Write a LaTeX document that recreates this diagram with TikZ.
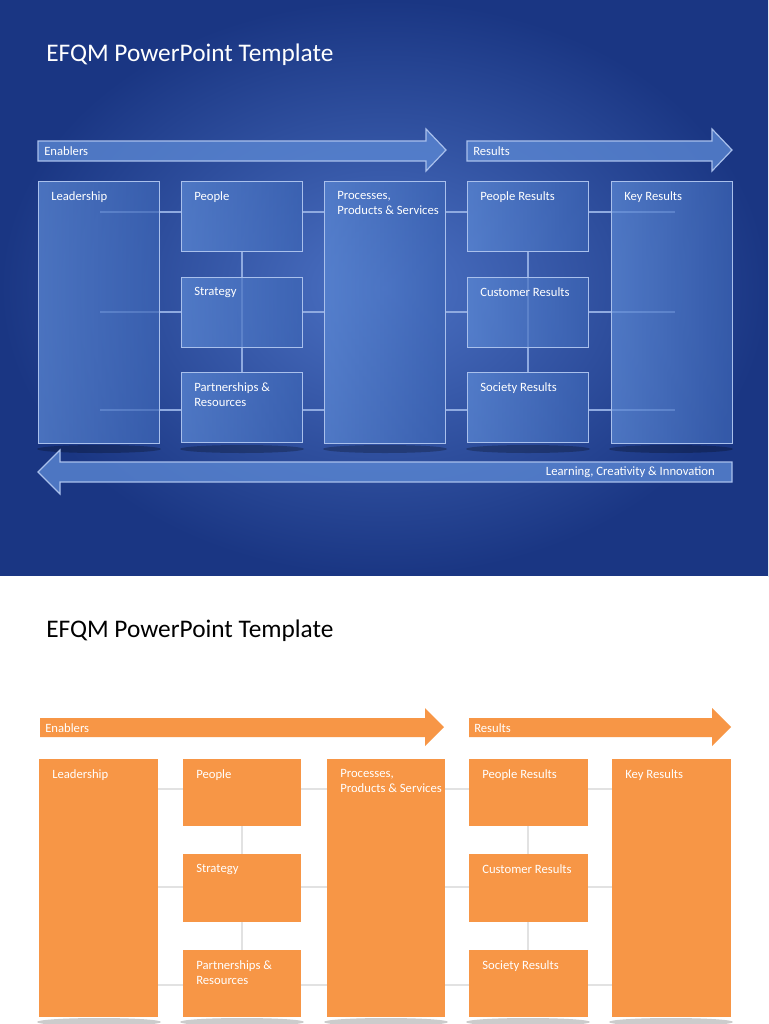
\documentclass[tikz,border=0pt]{standalone}
\usepackage{fontspec}
\setmainfont{Carlito}
\usetikzlibrary{shadings}
\definecolor{bgin}{HTML}{4C72C4}
\definecolor{bgout}{HTML}{1A3683}
\definecolor{bboxl}{HTML}{5A86D2}
\definecolor{bboxr}{HTML}{3C64B4}
\definecolor{bedge}{HTML}{A9C0EC}
\definecolor{bline}{HTML}{8FAAE0}
\definecolor{orng}{HTML}{F79646}
\definecolor{gline}{HTML}{E2E2E2}
\tikzset{
  bbox/.style={draw=bedge, line width=0.9pt, left color=bboxl, right color=bboxr, fill opacity=0.75, anchor=north west, inner sep=0pt},
  obox/.style={fill=orng, draw=none, anchor=north west, inner sep=0pt},
  blab/.style={anchor=north west, text=white, font=\fontsize{9.5pt}{11.3pt}\selectfont, align=left, inner sep=0pt},
  bconn/.style={draw=bline, line width=1.2pt},
  oconn/.style={draw=gline, line width=1.5pt},
  barrow/.style={draw=bedge, line width=0.9pt, fill=bboxl, fill opacity=0.8},
  oarrow/.style={fill=orng, draw=none},
  title/.style={anchor=west, font=\fontsize{19pt}{23pt}\selectfont, inner sep=0pt},
}
\newcommand\efb[7]{% style name x1 y1 x2 y2 text
  \node[#1, minimum width={(#5-#3)*0.75pt}, minimum height={(#6-#4)*0.75pt}] (#2) at (#3,#4) {};
  \node[blab] (#2t) at (#3+13,#4+10) {#7};}
\begin{document}
\begin{tikzpicture}[x=0.75pt,y=-0.75pt]
\useasboundingbox (0,0) rectangle (768,1024);
% ---------- top slide ----------
\shade[inner color=bgin, outer color=bgout] (0,0) rectangle (768,576);
\node[title, text=white] (t1) at (46,55) {EFQM PowerPoint Template};
\foreach \cx in {99,242,385,528,671}
  \fill[black, opacity=0.25] (\cx,449) ellipse (62 and 4);
\filldraw[barrow] (38,141) -- (426,141) -- (426,129) -- (446,150) -- (426,171) -- (426,161) -- (38,161) -- cycle;
\node[blab, anchor=west] (en1) at (44,151) {Enablers};
\filldraw[barrow] (467,141) -- (712,141) -- (712,129) -- (732,150) -- (712,171) -- (712,161) -- (467,161) -- cycle;
\node[blab, anchor=west] (re1) at (473,151) {Results};
\filldraw[barrow] (732,462) -- (60,462) -- (60,450) -- (38,472) -- (60,494) -- (60,482) -- (732,482) -- cycle;
\node[blab, anchor=east] (lc1) at (715,472) {Learning, Creativity \& Innovation};
\foreach \y in {212,312,410}{
  \draw[bconn] (100,\y) -- (181,\y);
  \draw[bconn] (302,\y) -- (324,\y);
  \draw[bconn] (445,\y) -- (467,\y);
  \draw[bconn] (588,\y) -- (675,\y);}
\draw[bconn] (242,251) -- (242,372);
\draw[bconn] (528,251) -- (528,372);
\efb{bbox}{lead}{38}{181}{159}{443}{Leadership}
\efb{bbox}{peo}{181}{181}{302}{251}{People}
\efb{bbox}{str}{181}{277}{302}{347}{Strategy}
\efb{bbox}{par}{181}{372}{302}{442}{Partnerships \&\\Resources}
\efb{bbox}{pro}{324}{181}{445}{443}{Processes,\\Products \& Services}
\efb{bbox}{pr}{467}{181}{588}{251}{People Results}
\efb{bbox}{cr}{467}{277}{588}{347}{Customer Results}
\efb{bbox}{sr}{467}{372}{588}{442}{Society Results}
\efb{bbox}{kr}{611}{181}{732}{443}{Key Results}
% ---------- bottom slide ----------
\begin{scope}
\clip (0,576) rectangle (768,1024);
\fill[white] (0,576) rectangle (768,1024);
\node[title, text=black] (t2) at (46,631) {EFQM PowerPoint Template};
\foreach \cx in {99,242,386,528,671}
  \fill[gray!40] (\cx,1022) ellipse (62 and 4);
\fill[oarrow] (40,718) -- (425,718) -- (425,708) -- (444,727) -- (425,746) -- (425,737) -- (40,737) -- cycle;
\node[blab, anchor=west] (en2) at (45,728) {Enablers};
\fill[oarrow] (469,718) -- (712,718) -- (712,708) -- (731,727) -- (712,746) -- (712,737) -- (469,737) -- cycle;
\node[blab, anchor=west] (re2) at (474,728) {Results};
\foreach \y in {789,887,985}{
  \draw[oconn] (158,\y) -- (183,\y);
  \draw[oconn] (301,\y) -- (327,\y);
  \draw[oconn] (445,\y) -- (469,\y);
  \draw[oconn] (588,\y) -- (612,\y);}
\draw[oconn] (242,826) -- (242,950);
\draw[oconn] (528,826) -- (528,950);
\efb{obox}{lead2}{39}{759}{158}{1017}{Leadership}
\efb{obox}{peo2}{183}{759}{301}{826}{People}
\efb{obox}{str2}{183}{854}{301}{922}{Strategy}
\efb{obox}{par2}{183}{950}{301}{1017}{Partnerships \&\\Resources}
\efb{obox}{pro2}{327}{759}{445}{1017}{Processes,\\Products \& Services}
\efb{obox}{pr2}{469}{759}{588}{826}{People Results}
\efb{obox}{cr2}{469}{854}{588}{922}{Customer Results}
\efb{obox}{sr2}{469}{950}{588}{1017}{Society Results}
\efb{obox}{kr2}{612}{759}{731}{1017}{Key Results}
\end{scope}
\end{tikzpicture}
\end{document}
